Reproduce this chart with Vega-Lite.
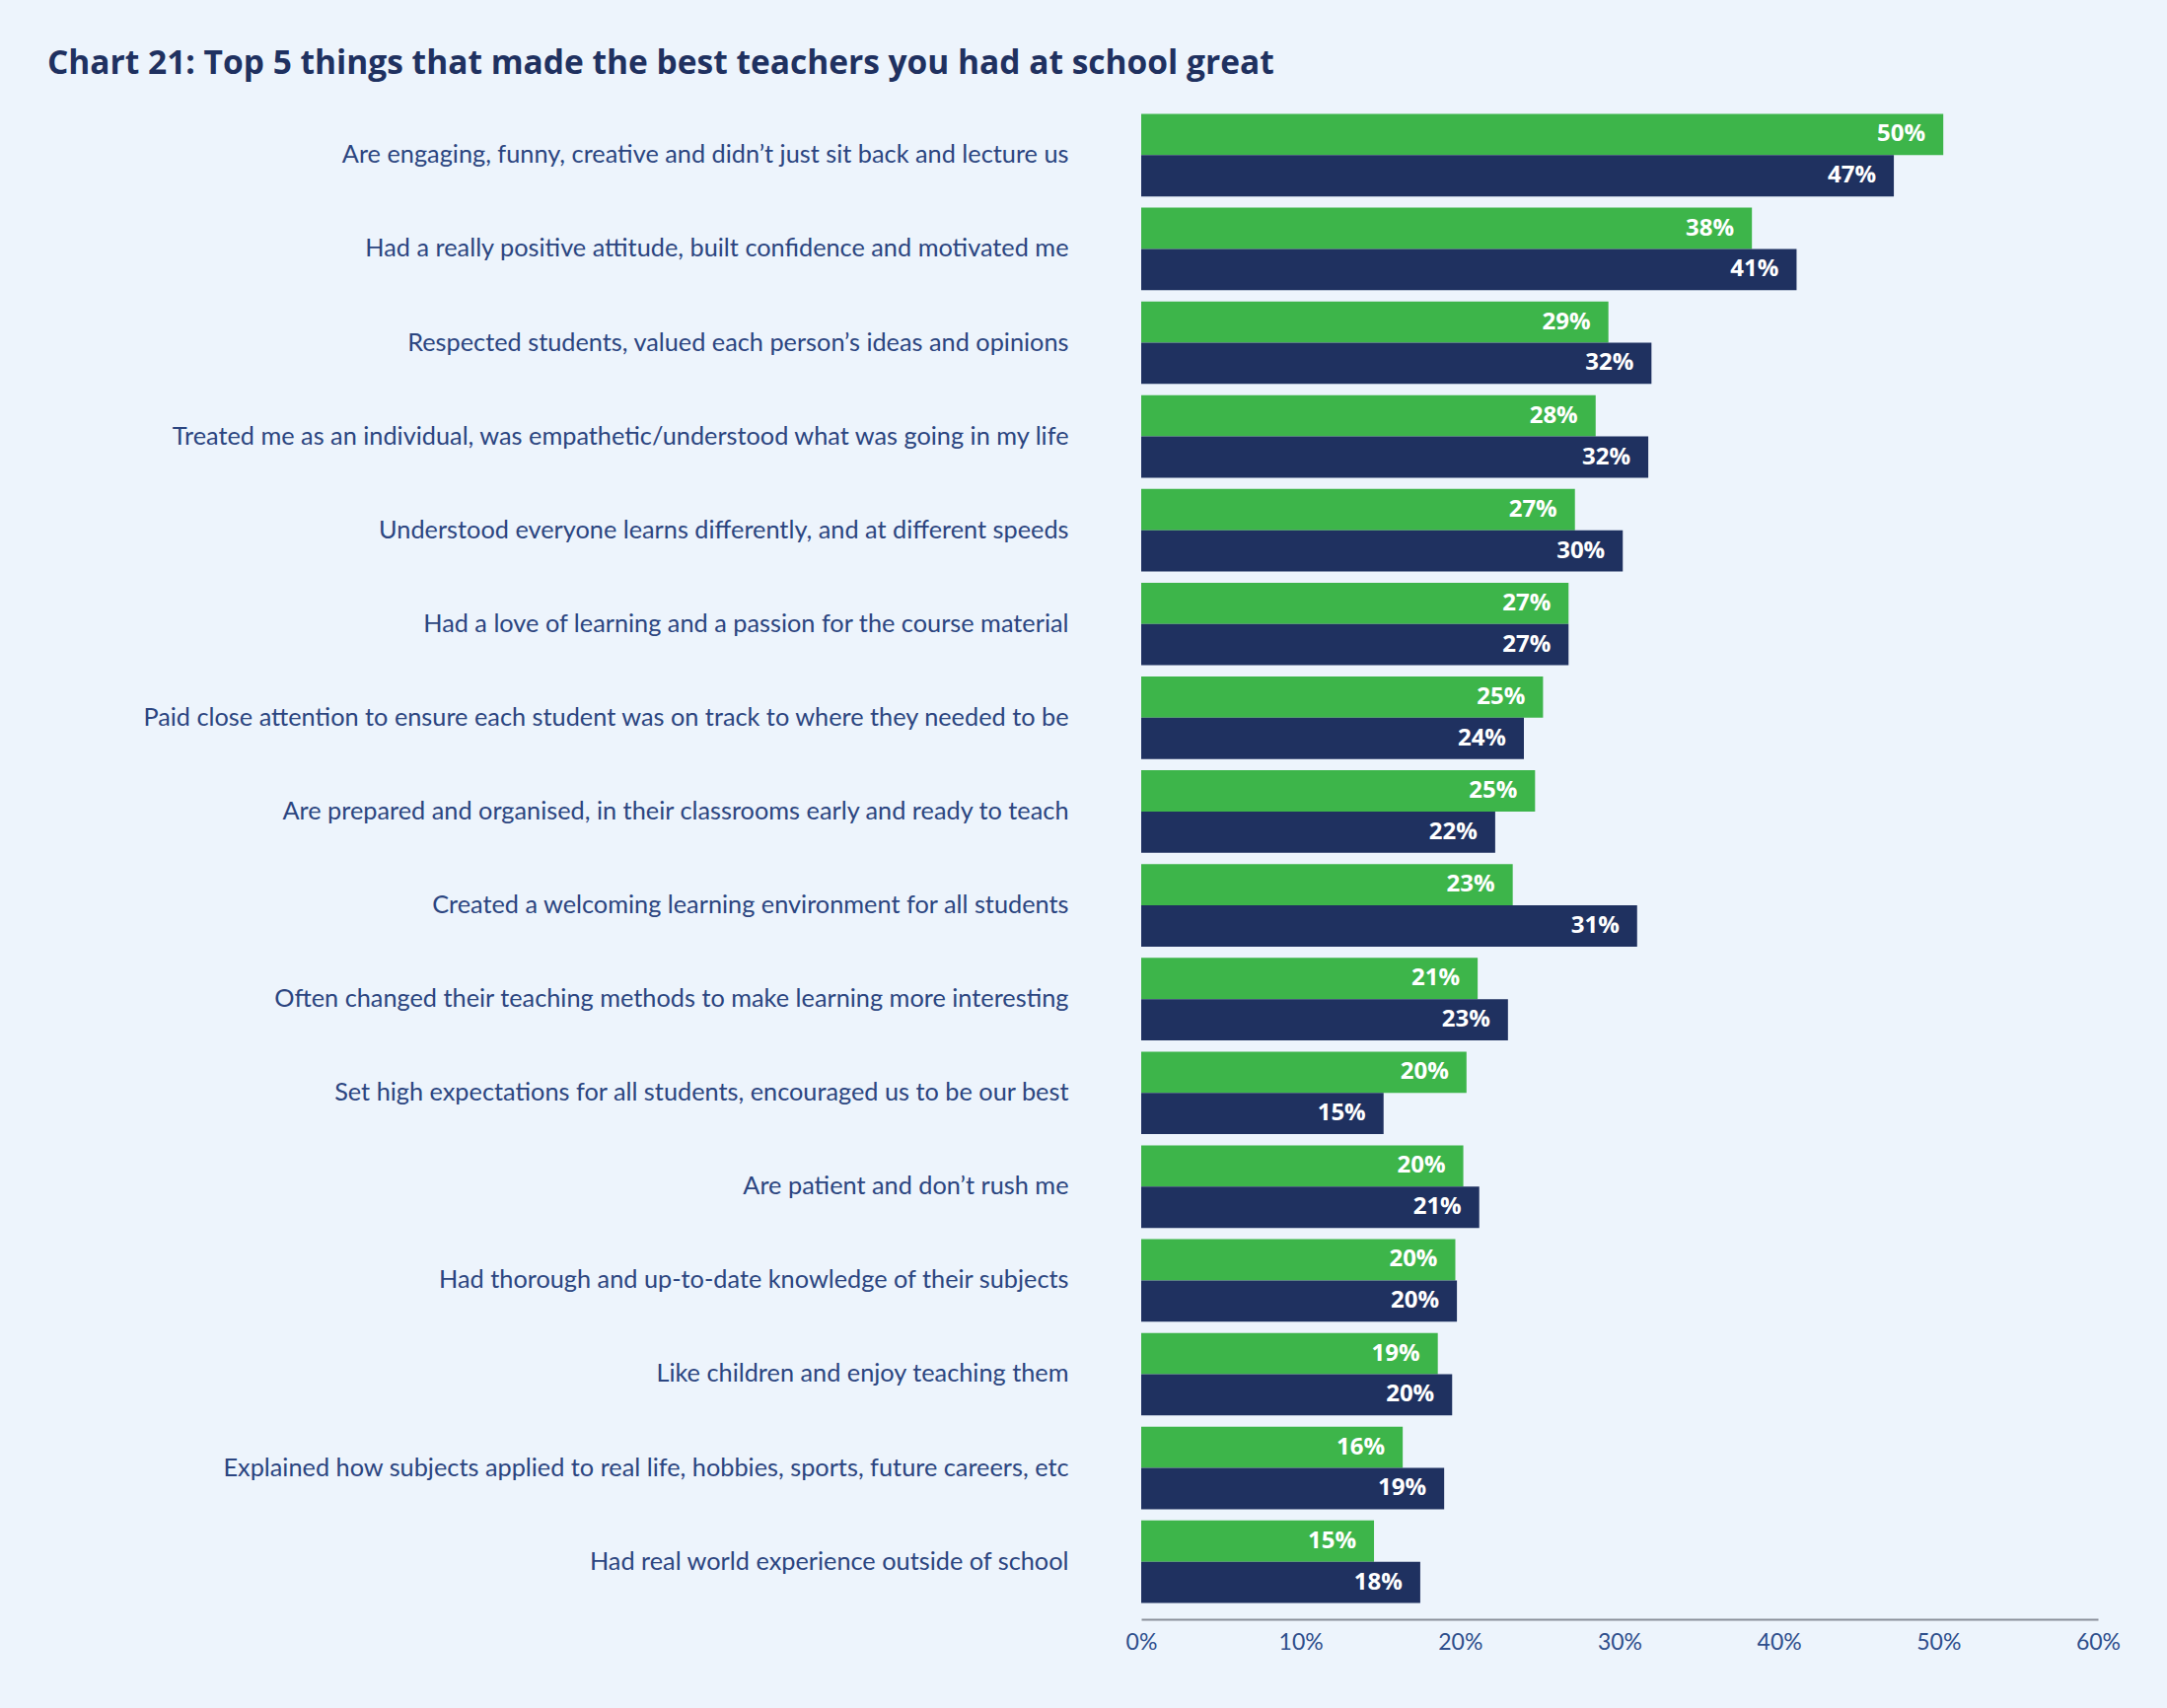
{
  "$schema": "https://vega.github.io/schema/vega-lite/v6.json",
  "autosize": {"type": "none"},
  "width": 970,
  "height": 1529,
  "padding": {"left": 1157, "top": 106, "right": 70, "bottom": 97},
  "background": "#edf4fc",
  "title": {
    "text": "Chart 21: Top 5 things that made the best teachers you had at school great",
    "anchor": "start",
    "frame": "group",
    "dx": -1109,
    "offset": 24,
    "font": "Open Sans",
    "fontSize": 33.5,
    "fontWeight": "bold",
    "color": "#1f3160"
  },
  "config": {
    "view": {"stroke": null},
    "font": "Lato"
  },
  "data": {
    "values": [
      {"item": "Are engaging, funny, creative and didn’t just sit back and lecture us", "series": "A", "value": 50.3, "label": "50%"},
      {"item": "Are engaging, funny, creative and didn’t just sit back and lecture us", "series": "B", "value": 47.2, "label": "47%"},
      {"item": "Had a really positive attitude, built confidence and motivated me", "series": "A", "value": 38.3, "label": "38%"},
      {"item": "Had a really positive attitude, built confidence and motivated me", "series": "B", "value": 41.1, "label": "41%"},
      {"item": "Respected students, valued each person’s ideas and opinions", "series": "A", "value": 29.3, "label": "29%"},
      {"item": "Respected students, valued each person’s ideas and opinions", "series": "B", "value": 32.0, "label": "32%"},
      {"item": "Treated me as an individual, was empathetic/understood what was going in my life", "series": "A", "value": 28.5, "label": "28%"},
      {"item": "Treated me as an individual, was empathetic/understood what was going in my life", "series": "B", "value": 31.8, "label": "32%"},
      {"item": "Understood everyone learns differently, and at different speeds", "series": "A", "value": 27.2, "label": "27%"},
      {"item": "Understood everyone learns differently, and at different speeds", "series": "B", "value": 30.2, "label": "30%"},
      {"item": "Had a love of learning and a passion for the course material", "series": "A", "value": 26.8, "label": "27%"},
      {"item": "Had a love of learning and a passion for the course material", "series": "B", "value": 26.8, "label": "27%"},
      {"item": "Paid close attention to ensure each student was on track to where they needed to be", "series": "A", "value": 25.2, "label": "25%"},
      {"item": "Paid close attention to ensure each student was on track to where they needed to be", "series": "B", "value": 24.0, "label": "24%"},
      {"item": "Are prepared and organised, in their classrooms early and ready to teach", "series": "A", "value": 24.7, "label": "25%"},
      {"item": "Are prepared and organised, in their classrooms early and ready to teach", "series": "B", "value": 22.2, "label": "22%"},
      {"item": "Created a welcoming learning environment for all students", "series": "A", "value": 23.3, "label": "23%"},
      {"item": "Created a welcoming learning environment for all students", "series": "B", "value": 31.1, "label": "31%"},
      {"item": "Often changed their teaching methods to make learning more interesting", "series": "A", "value": 21.1, "label": "21%"},
      {"item": "Often changed their teaching methods to make learning more interesting", "series": "B", "value": 23.0, "label": "23%"},
      {"item": "Set high expectations for all students, encouraged us to be our best", "series": "A", "value": 20.4, "label": "20%"},
      {"item": "Set high expectations for all students, encouraged us to be our best", "series": "B", "value": 15.2, "label": "15%"},
      {"item": "Are patient and don’t rush me", "series": "A", "value": 20.2, "label": "20%"},
      {"item": "Are patient and don’t rush me", "series": "B", "value": 21.2, "label": "21%"},
      {"item": "Had thorough and up-to-date knowledge of their subjects", "series": "A", "value": 19.7, "label": "20%"},
      {"item": "Had thorough and up-to-date knowledge of their subjects", "series": "B", "value": 19.8, "label": "20%"},
      {"item": "Like children and enjoy teaching them", "series": "A", "value": 18.6, "label": "19%"},
      {"item": "Like children and enjoy teaching them", "series": "B", "value": 19.5, "label": "20%"},
      {"item": "Explained how subjects applied to real life, hobbies, sports, future careers, etc", "series": "A", "value": 16.4, "label": "16%"},
      {"item": "Explained how subjects applied to real life, hobbies, sports, future careers, etc", "series": "B", "value": 19.0, "label": "19%"},
      {"item": "Had real world experience outside of school", "series": "A", "value": 14.6, "label": "15%"},
      {"item": "Had real world experience outside of school", "series": "B", "value": 17.5, "label": "18%"}
    ]
  },
  "encoding": {
    "y": {
      "field": "item",
      "type": "nominal",
      "sort": null,
      "scale": {"paddingInner": 0.12, "paddingOuter": 0.1},
      "axis": {
        "title": null,
        "domain": false,
        "ticks": false,
        "labelPadding": 74,
        "labelFontSize": 25.3,
        "labelColor": "#2b4580",
        "labelFont": "Lato",
        "labelLimit": 1100
      }
    },
    "yOffset": {"field": "series", "type": "nominal", "sort": ["A", "B"]},
    "x": {
      "field": "value",
      "type": "quantitative",
      "scale": {"domain": [0, 60]},
      "axis": {
        "title": null,
        "values": [0, 10, 20, 30, 40, 50, 60],
        "labelExpr": "datum.value + '%'",
        "labelFlush": false,
        "grid": false,
        "ticks": false,
        "offset": 7,
        "domainColor": "#8a8f99",
        "domainWidth": 2,
        "labelFontSize": 23,
        "labelColor": "#2f4f8c",
        "labelPadding": 12,
        "labelFont": "Lato"
      }
    }
  },
  "layer": [
    {
      "mark": {"type": "bar"},
      "encoding": {
        "color": {
          "field": "series",
          "type": "nominal",
          "scale": {"domain": ["A", "B"], "range": ["#3db54a", "#1f3160"]},
          "legend": null
        }
      }
    },
    {
      "mark": {"type": "text", "align": "right", "baseline": "middle", "dx": -18, "color": "white", "fontWeight": "bold", "fontSize": 24, "font": "Open Sans"},
      "encoding": {
        "text": {"field": "label", "type": "nominal"}
      }
    }
  ]
}
